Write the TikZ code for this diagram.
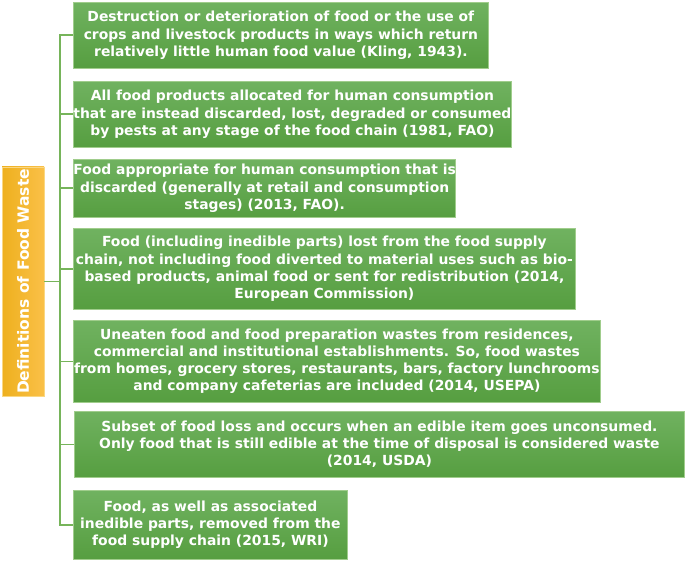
\documentclass[tikz,border=0pt]{standalone}
\usepackage{fontspec}
\setmainfont{DejaVu Sans}
\definecolor{greentop}{RGB}{112,178,96}
\definecolor{greenbot}{RGB}{86,158,64}
\definecolor{boxedge}{RGB}{160,205,140}
\definecolor{linkgreen}{RGB}{118,180,90}
\definecolor{orangetop}{RGB}{250,192,72}
\definecolor{orangebot}{RGB}{238,176,30}
\definecolor{orangeedge}{RGB}{250,215,130}
\begin{document}
\begin{tikzpicture}[x=1pt,y=-1pt]
    \tikzstyle{defbox}=[rectangle, draw=boxedge, line width=0.8pt, top color=greentop, bottom color=greenbot,
                        text=white, font=\bfseries\fontsize{13.9}{17.2}\selectfont, align=center,
                        anchor=north west, inner sep=0pt]
    \tikzstyle{titlebox}=[rectangle, draw=orangeedge, line width=0.8pt, left color=orangebot, right color=orangetop,
                          text=white, font=\bfseries\fontsize{15.5}{18}\selectfont, rotate=90, inner sep=0pt,
                          minimum width=229pt, minimum height=42pt]
    \tikzstyle{link}=[draw=linkgreen, line width=1.8pt]
    \useasboundingbox (0,0) rectangle (685,561);

    \node[titlebox] (title) at (23,281.5) {Definitions of Food Waste};

    \node[defbox, minimum width=415pt, minimum height=66pt] (def1) at (73,2)
        {Destruction or deterioration of food or the use of\\
         crops and livestock products in ways which return\\
         relatively little human food value (Kling, 1943).};
    \node[defbox, minimum width=437pt, minimum height=66pt] (def2) at (73,81)
        {All food products allocated for human consumption\\
         that are instead discarded, lost, degraded or consumed\\
         by pests at any stage of the food chain (1981, FAO)};
    \node[defbox, minimum width=382pt, minimum height=58pt] (def3) at (73,159)
        {Food appropriate for human consumption that is\\
         discarded (generally at retail and consumption\\
         stages) (2013, FAO).};
    \node[defbox, minimum width=502pt, minimum height=81pt] (def4) at (73,228)
        {Food (including inedible parts) lost from the food supply\\
         chain, not including food diverted to material uses such as bio-\\
         based products, animal food or sent for redistribution (2014,\\
         European Commission)};
    \node[defbox, minimum width=527pt, minimum height=82pt] (def5) at (73,320)
        {Uneaten food and food preparation wastes from residences,\\
         commercial and institutional establishments. So, food wastes\\
         from homes, grocery stores, restaurants, bars, factory lunchrooms\\
         and company cafeterias are included (2014, USEPA)};
    \node[defbox, minimum width=610pt, minimum height=66pt] (def6) at (74,411)
        {Subset of food loss and occurs when an edible item goes unconsumed.\\
         Only food that is still edible at the time of disposal is considered waste\\
         (2014, USDA)};
    \node[defbox, minimum width=274pt, minimum height=69pt] (def7) at (73,490)
        {Food, as well as associated\\
         inedible parts, removed from the\\
         food supply chain (2015, WRI)};

    % spine
    \coordinate (spine) at (60,0);
    \draw[link] (def1.west) -- (def1.west -| spine) -- (def7.west -| spine) -- (def7.west);
    \foreach \n in {def2,def3,def4,def5,def6}
        \draw[link] (\n.west) -- (\n.west -| spine);
    \draw[link] (title.south) -- (title.south -| spine);

\end{tikzpicture}
\end{document}
